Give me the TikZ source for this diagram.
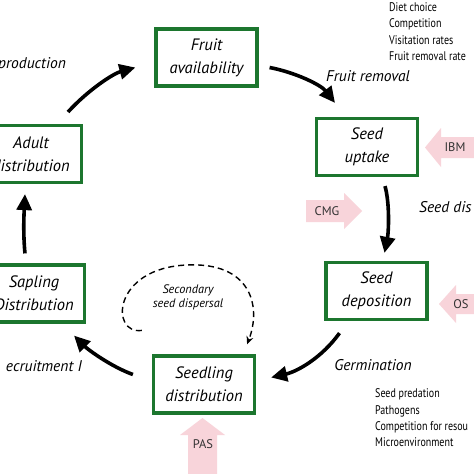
\documentclass[tikz,border=0pt]{standalone}
\usepackage{fontspec}
\setmainfont{PT Sans}
\newfontfamily\condfont[FakeStretch=0.8]{PT Sans}
\usetikzlibrary{arrows.meta}
\definecolor{boxgreen}{RGB}{28,118,46}
\definecolor{pinkarrow}{RGB}{248,212,218}
\tikzset{
  stage/.style={draw=boxgreen, line width=3.2pt, fill=white, minimum width=101pt, minimum height=57pt,
    align=center, inner sep=0pt, font=\fontsize{16.5}{23}\selectfont\itshape},
  flow/.style={line width=3.6pt, -{Triangle[length=16pt,width=15pt]}},
  second/.style={line width=1.4pt, dash pattern=on 6pt off 4pt, -{Stealth[length=8pt,width=7pt]}},
  lab/.style={font=\fontsize{15.5}{18}\selectfont\itshape, inner sep=0pt},
  small/.style={font=\fontsize{12.3}{14}\selectfont\itshape, align=center, inner sep=0pt},
  blocklab/.style={font=\fontsize{12.5}{14}\selectfont, text=black!80, inner sep=0pt},
  listtext/.style={font=\condfont\fontsize{12.5}{16.4}\selectfont, align=left, anchor=north west, inner sep=0pt},
  block/.style={fill=pinkarrow, draw=none}
}
\begin{document}
\begin{tikzpicture}[x=1pt,y=-1pt]
\useasboundingbox (0,0) rectangle (474,474);
\clip (0,0) rectangle (474,474);
\fill[white] (0,0) rectangle (474,474);

% pink block arrows
\fill[block] (474,137) -- (441,137) -- (441,128) -- (425,147.5) -- (441,167) -- (441,158) -- (474,158) -- cycle;
\fill[block] (306,200) -- (344,200) -- (344,193) -- (362,211) -- (344,229) -- (344,222) -- (306,222) -- cycle;
\fill[block] (474,294) -- (456,294) -- (456,285) -- (439,304) -- (456,323) -- (456,314) -- (474,314) -- cycle;
\fill[block] (188,474) -- (188,435) -- (180,435) -- (202.5,418) -- (225,435) -- (217,435) -- (217,474) -- cycle;
\node[blocklab] (ibm) at (455,147) {IBM};
\node[blocklab] (cmg) at (327,211) {CMG};
\node[blocklab] (os) at (461,304) {OS};
\node[blocklab] (pas) at (203,444) {PAS};

% stages
\node[stage] (fruit) at (206.5,57.5) {Fruit\\availability};
\node[stage] (uptake) at (367,147) {Seed\\uptake};
\node[stage] (depo) at (376.5,291) {Seed\\deposition};
\node[stage] (seedling) at (204,384.5) {Seedling\\distribution};
\node[stage] (sapling) at (34,293.5) {Sapling\\Distribution};
\node[stage] (adult) at (31,154) {Adult\\distribution};

% connector end points
\coordinate (a1) at ([shift={(37,-42)}]adult.center);
\coordinate (a2) at ([shift={(-19,10)}]fruit.west);
\coordinate (b1) at ([shift={(11,10)}]fruit.east);
\coordinate (b2) at ([shift={(-32,-14)}]uptake.north);
\coordinate (c1) at ([shift={(18,9)}]uptake.south);
\coordinate (c2) at ([shift={(8,-8)}]depo.north);
\coordinate (d1) at ([shift={(-37,12)}]depo.south);
\coordinate (d2) at ([shift={(15,-7)}]seedling.east);
\coordinate (e1) at ([shift={(-19,-10)}]seedling.west);
\coordinate (e2) at ([shift={(40,12)}]sapling.south);
\coordinate (f1) at ([shift={(-9,-10)}]sapling.north);
\coordinate (f2) at ([shift={(-6,10)}]adult.south);
\coordinate (g1) at ([shift={(-10,-24)}]seedling.north west);
\coordinate (g2) at ([shift={(-9,-10)}]seedling.north east);

\draw[flow] (a1) .. controls +(20,-22) and +(-22,6) .. (a2);
\draw[flow] (b1) .. controls +(26,5) and +(-14,-18) .. (b2);
\draw[flow] (c1) .. controls +(5,18) and +(4,-20) .. (c2);
\draw[flow] (d1) .. controls +(-18,25) and +(26,-6) .. (d2);
\draw[flow] (e1) .. controls +(-22,-8) and +(14,14) .. (e2);
\draw[flow] (f1) .. controls +(-2,-20) and +(-1,20) .. (f2);
\draw[second] (g1) .. controls (110,335) and (112,268) .. (187,265)
  .. controls (250,262) and (262,305) .. (g2);
\node[small] (sec) at (188,297) {Secondary\\seed dispersal};

% process labels
\node[lab, anchor=west] (repro) at (-2,65) {production};
\node[lab] (fremoval) at (368,76) {Fruit removal};
\node[lab, anchor=west] (sdis) at (419,207) {Seed dis};
\node[lab] (germ) at (373,365) {Germination};
\node[lab, anchor=east] (recr) at (82,366) {ecruitment I};

% lists
\node[listtext] (list1) at (389,2.5) {Diet choice\\Competition\\Visitation rates\\Fruit removal rate};
\node[listtext] (list2) at (375,388.5) {Seed predation\\Pathogens\\Competition for resou\\Microenvironment};
\end{tikzpicture}
\end{document}
